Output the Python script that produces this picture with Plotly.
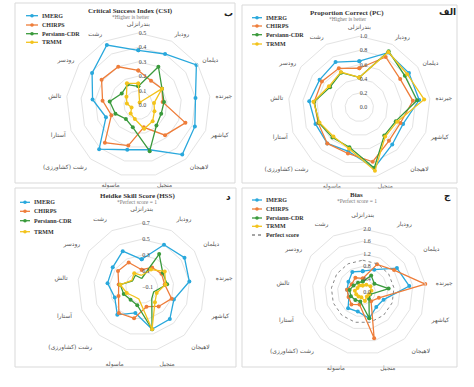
import plotly.graph_objects as go

W, H = 474, 387

stations = ["بندرانزلی", "رودبار", "دیلمان", "جیرنده", "کیاشهر", "لاهیجان", "منجیل",
            "ماسوله", "رشت (کشاورزی)", "آستارا", "تالش", "رودسر", "رشت"]
series_names = ["IMERG", "CHIRPS", "Persiann-CDR", "TRMM"]
colors = ["#29a8dc", "#ee7d3a", "#3a9a3c", "#f3c31c"]

# Critical Success Index
csi_imerg = [0.38, 0.40, 0.49, 0.40, 0.42, 0.46, 0.32, 0.32, 0.41, 0.24, 0.32, 0.39, 0.47]
csi_chirps = [0.24, 0.19, 0.20, 0.17, 0.35, 0.28, 0.16, 0.29, 0.35, 0.20, 0.25, 0.31, 0.30]
csi_persiann = [0.13, 0.30, 0.20, 0.18, 0.17, 0.19, 0.33, 0.16, 0.13, 0.17, 0.20, 0.14, 0.16]
csi_trmm = [0.15, 0.02, 0.20, 0.11, 0.12, 0.15, 0.17, 0.10, 0.08, 0.05, 0.08, 0.10, 0.17]

# Proportion Correct
pc_imerg = [0.65, 0.87, 0.85, 0.85, 0.66, 0.70, 0.88, 0.64, 0.68, 0.66, 0.71, 0.68, 0.72]
pc_chirps = [0.55, 0.80, 0.70, 0.76, 0.62, 0.63, 0.79, 0.67, 0.68, 0.62, 0.64, 0.64, 0.62]
pc_persiann = [0.42, 0.89, 0.78, 0.82, 0.55, 0.53, 0.88, 0.58, 0.57, 0.61, 0.64, 0.50, 0.55]
pc_trmm = [0.42, 0.88, 0.82, 0.92, 0.57, 0.55, 0.92, 0.60, 0.55, 0.60, 0.65, 0.52, 0.56]

# Heidke Skill Score
hss_imerg = [0.25, 0.50, 0.55, 0.50, 0.33, 0.43, 0.44, 0.23, 0.36, 0.26, 0.33, 0.34, 0.41]
hss_chirps = [0.12, 0.18, 0.20, 0.19, 0.30, 0.22, 0.15, 0.30, 0.33, 0.21, 0.19, 0.26, 0.25]
hss_persiann = [0.01, 0.37, 0.22, 0.22, 0.06, 0.09, 0.44, 0.13, 0.11, 0.14, 0.17, 0.04, 0.07]
hss_trmm = [0.05, 0.15, 0.25, 0.20, 0.10, 0.15, 0.44, 0.05, 0.05, 0.10, 0.17, 0.05, 0.10]

# Bias
bias_imerg = [0.65, 0.79, 1.32, 1.49, 0.71, 0.65, 0.87, 0.65, 0.70, 0.47, 0.50, 0.55, 0.71]
bias_chirps = [0.42, 0.98, 1.21, 2.00, 0.55, 0.40, 1.52, 0.42, 0.54, 0.48, 0.50, 0.42, 0.50]
bias_persiann = [0.32, 0.58, 0.45, 0.83, 0.25, 0.30, 0.87, 0.32, 0.35, 0.40, 0.42, 0.35, 0.32]
bias_trmm = [0.20, 0.25, 0.30, 0.28, 0.22, 0.20, 0.30, 0.18, 0.20, 0.22, 0.25, 0.20, 0.22]
perfect_score = [1.0] * 13

panels = [
    dict(key="polar", data=[csi_imerg, csi_chirps, csi_persiann, csi_trmm],
         center=(138.3, 105.0), radius=72, rng=[0, 0.5], ticks=[0, 0.1, 0.2, 0.3, 0.4, 0.5],
         title="Critical Success Index (CSI)", sub="*Higher is better", tpos=(130, 10.5), spos=(130, 17),
         letter="ب", lpos=(228, 13), box=(15, 3, 235, 183),
         leg=(26, 38, 40, [15.7, 25, 33.7, 42.3]), perfect=False, push=4),
    dict(key="polar2", data=[pc_imerg, pc_chirps, pc_persiann, pc_trmm],
         center=(359.3, 107.3), radius=71, rng=[0, 1.0], ticks=[0, 0.2, 0.4, 0.6, 0.8, 1.0],
         title="Proportion Correct (PC)", sub="*Higher is better", tpos=(347, 13.5), spos=(347, 19.5),
         letter="الف", lpos=(447, 12), box=(242, 5, 457, 183),
         leg=(252, 262, 264, [17.7, 26, 34.7, 44]), perfect=False, push=4),
    dict(key="polar3", data=[hss_imerg, hss_chirps, hss_persiann, hss_trmm],
         center=(141.7, 287.3), radius=64, rng=[-0.1, 0.7], ticks=[-0.1, 0.1, 0.3, 0.5, 0.7],
         title="Heidke Skill Score (HSS)", sub="*Perfect score = 1", tpos=(137, 195.5), spos=(137, 202),
         letter="د", lpos=(228, 196.7), box=(15, 188, 236, 367),
         leg=(20, 30, 32, [202.3, 211.3, 220.7, 231.7]), perfect=False, push=9),
    dict(key="polar4", data=[bias_imerg, bias_chirps, bias_persiann, bias_trmm],
         center=(362.7, 291.7), radius=63, rng=[0, 2.0], ticks=[0, 0.4, 0.8, 1.2, 1.6, 2.0],
         title="Bias", sub="*Perfect score = 1", tpos=(356, 195), spos=(357, 201),
         letter="ج", lpos=(447.7, 196.7), box=(242, 188, 457, 367),
         leg=(252, 262, 264, [200, 209, 218, 226.3, 235]), perfect=True, push=9),
]

fig = go.Figure()
shapes = []
annotations = []

def px2x(x):
    return x / W

def px2y(y):
    return 1 - y / H

layout_polars = {}
for p in panels:
    cx, cy = p["center"]
    r = p["radius"]
    for name, vals, col in zip(series_names, p["data"], colors):
        fig.add_trace(go.Scatterpolar(
            r=vals + [vals[0]], theta=stations + [stations[0]], subplot=p["key"],
            mode="lines+markers", name=name, showlegend=False,
            line=dict(color=col, width=1.3), marker=dict(color=col, size=4)))
    if p["perfect"]:
        fig.add_trace(go.Scatterpolar(
            r=perfect_score + [perfect_score[0]], theta=stations + [stations[0]], subplot=p["key"],
            mode="lines", name="Perfect score", showlegend=False,
            line=dict(color="#888888", width=1, dash="dot")))
    layout_polars[p["key"]] = dict(
        domain=dict(x=[px2x(cx - r), px2x(cx + r)], y=[px2y(cy + r), px2y(cy - r)]),
        bgcolor="rgba(0,0,0,0)",
        gridshape="linear",
        radialaxis=dict(range=p["rng"], tickvals=p["ticks"], tickformat=".1f", angle=90, tickangle=90,
                        showline=False, ticks="", gridcolor="#e3e3e3", gridwidth=1,
                        tickfont=dict(family="Liberation Serif", size=6, color="#444444")),
        angularaxis=dict(rotation=90, direction="clockwise", showgrid=False, showline=True,
                         linecolor="#e3e3e3", ticks="outside", ticklen=p["push"],
                         tickcolor="rgba(255,255,255,0)",
                         tickfont=dict(family="DejaVu Sans", size=6, color="#555555")),
    )
    # panel frame
    x0, y0, x1, y1 = p["box"]
    shapes.append(dict(type="rect", xref="paper", yref="paper", x0=px2x(x0), x1=px2x(x1),
                       y0=px2y(y1), y1=px2y(y0), line=dict(color="#d9d9d9", width=1)))
    annotations.append(dict(text="<b>%s</b>" % p["title"], x=px2x(p["tpos"][0]), y=px2y(p["tpos"][1]),
                            xref="paper", yref="paper", showarrow=False, xanchor="center", yanchor="middle",
                            font=dict(family="Liberation Serif", size=7, color="#333333")))
    annotations.append(dict(text=p["sub"], x=px2x(p["spos"][0]), y=px2y(p["spos"][1]),
                            xref="paper", yref="paper", showarrow=False, xanchor="center", yanchor="middle",
                            font=dict(family="Liberation Serif", size=5.5, color="#777777")))
    annotations.append(dict(text="<b>%s</b>" % p["letter"], x=px2x(p["lpos"][0]), y=px2y(p["lpos"][1]),
                            xref="paper", yref="paper", showarrow=False, xanchor="center", yanchor="middle",
                            font=dict(family="DejaVu Sans", size=9, color="#222222")))
    # legend
    lx0, lx1, tx, ys = p["leg"]
    names = series_names + (["Perfect score"] if p["perfect"] else [])
    cols = colors + (["#888888"] if p["perfect"] else [])
    for i, (nm, col) in enumerate(zip(names, cols)):
        y = ys[i]
        dash = "dot" if nm == "Perfect score" else "solid"
        shapes.append(dict(type="line", xref="paper", yref="paper", x0=px2x(lx0), x1=px2x(lx1),
                           y0=px2y(y), y1=px2y(y), line=dict(color=col, width=1.3, dash=dash)))
        if nm != "Perfect score":
            xm = (lx0 + lx1) / 2
            shapes.append(dict(type="circle", xref="paper", yref="paper", x0=px2x(xm - 1.8), x1=px2x(xm + 1.8),
                               y0=px2y(y + 1.8), y1=px2y(y - 1.8), fillcolor=col, line=dict(color=col, width=0)))
        annotations.append(dict(text="<b>%s</b>" % nm, x=px2x(tx), y=px2y(y), xref="paper", yref="paper",
                                showarrow=False, xanchor="left", yanchor="middle",
                                font=dict(family="Liberation Serif", size=6, color="#333333")))

fig.update_layout(
    width=W, height=H,
    margin=dict(l=0, r=0, t=0, b=0),
    paper_bgcolor="white",
    showlegend=False,
    shapes=shapes,
    annotations=annotations,
    **layout_polars,
)

fig.write_html("out.html", config={"displayModeBar": False},
               post_script="document.body.style.margin='0';")
